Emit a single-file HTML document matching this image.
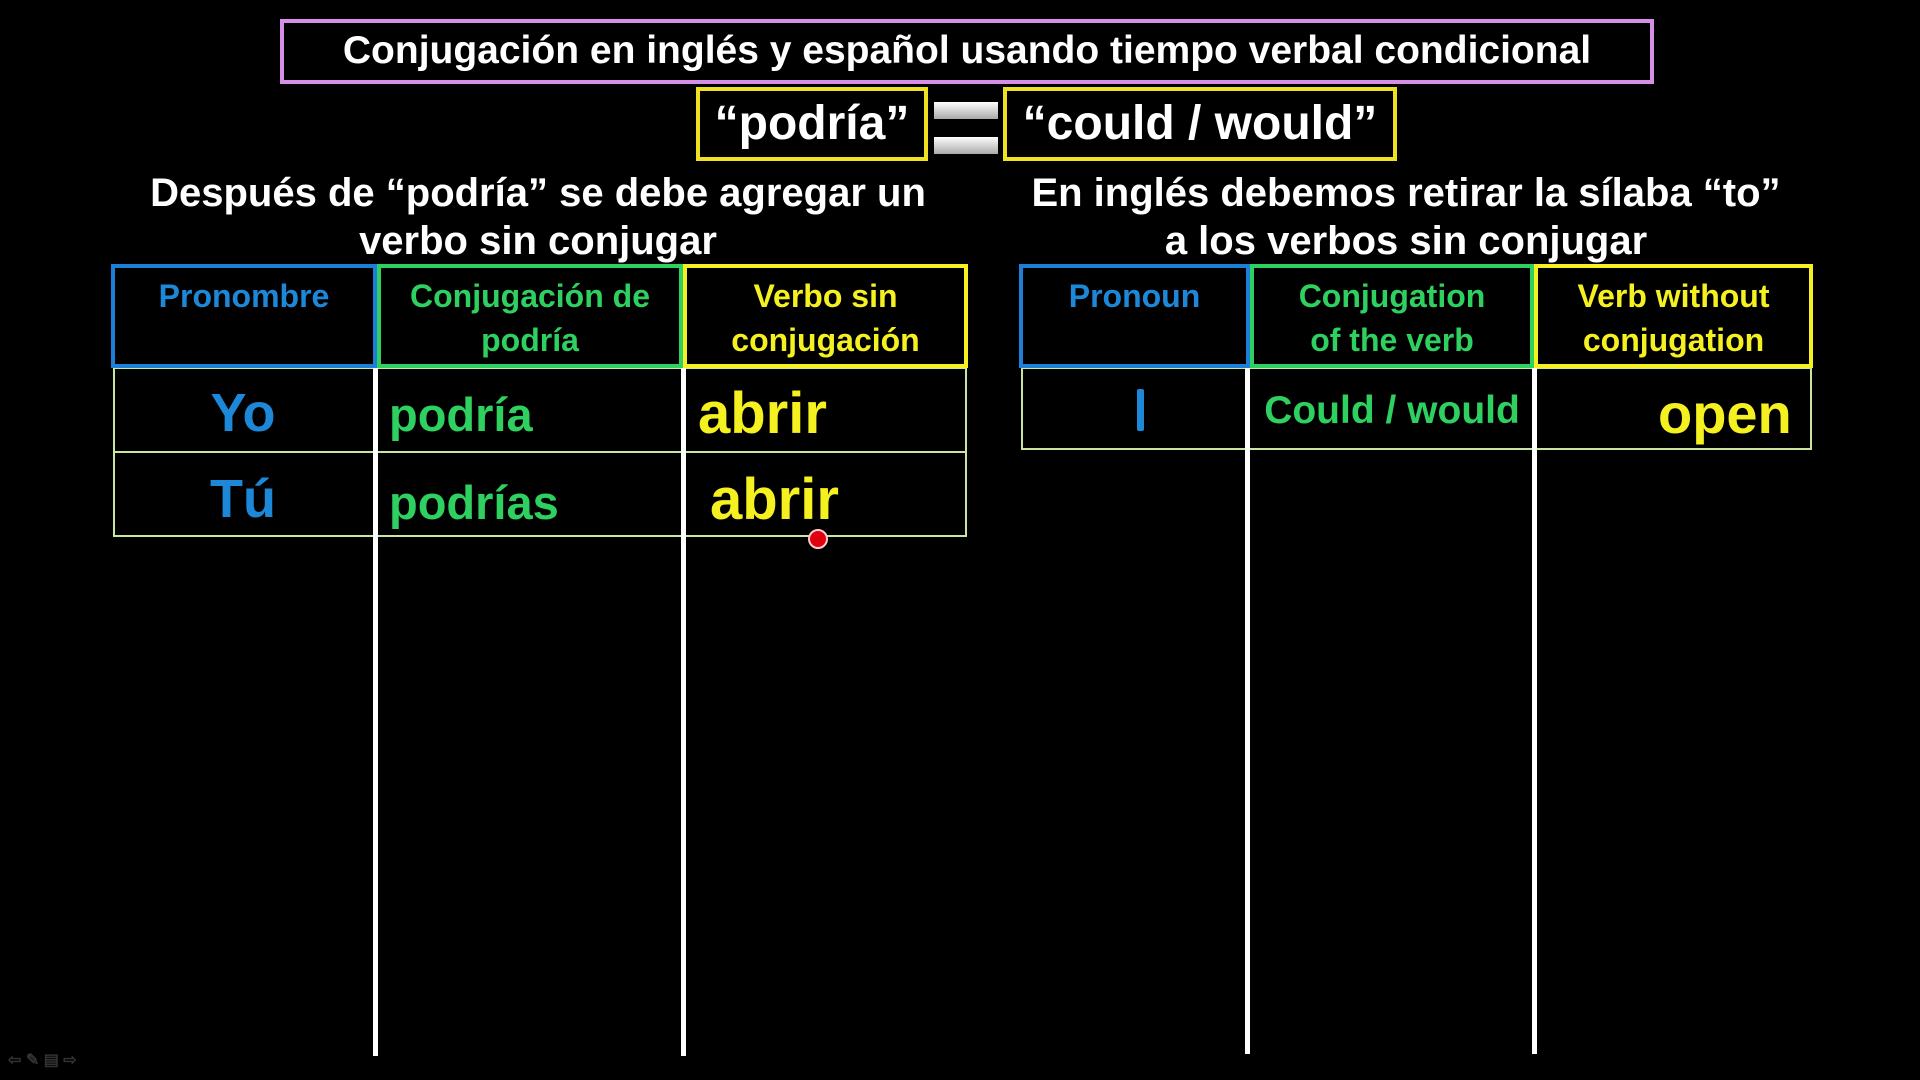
<!DOCTYPE html>
<html><head><meta charset="utf-8"><style>
body{margin:0;width:1920px;height:1080px;background:#000;position:relative;overflow:hidden;font-family:"Liberation Sans",Arial,sans-serif;font-weight:bold}
.a{position:absolute;box-sizing:border-box}
.t{position:absolute;white-space:nowrap}
.c{text-align:center}
</style></head><body>
<div class="a" style="left:280px;top:19px;width:1374px;height:65px;border:4px solid #d58fe6"></div>
<div class="t c" style="left:280px;top:29px;width:1374px;font-size:39px;color:#fff">Conjugación en inglés y español usando tiempo verbal condicional</div>

<div class="a" style="left:696px;top:87px;width:232px;height:74px;border:4px solid #f0e020"></div>
<div class="t c" style="left:696px;top:96px;width:232px;font-size:48px;color:#fff">“podría”</div>
<div class="a" style="left:934px;top:102px;width:64px;height:17px;background:linear-gradient(#fff,#aaa);"></div>
<div class="a" style="left:934px;top:137px;width:64px;height:17px;background:linear-gradient(#fff,#aaa);"></div>
<div class="a" style="left:1003px;top:87px;width:394px;height:74px;border:4px solid #f0e020"></div>
<div class="t c" style="left:1003px;top:96px;width:394px;font-size:48px;color:#fff">“could / would”</div>

<div class="t c" style="left:88px;top:169px;width:900px;font-size:40px;line-height:48px;color:#fff">Después de “podría” se debe agregar un<br>verbo sin conjugar</div>
<div class="t c" style="left:956px;top:169px;width:900px;font-size:40px;line-height:48px;color:#fff">En inglés debemos retirar la sílaba “to”<br>a los verbos sin conjugar</div>

<!-- left table -->
<div class="a" style="left:113px;top:367px;width:854px;height:170px;border:2px solid #c8e6a0"></div>
<div class="a" style="left:113px;top:451px;width:854px;height:2px;background:#c8e6a0"></div>
<div class="a" style="left:373px;top:367px;width:5px;height:689px;background:#fff"></div>
<div class="a" style="left:681px;top:367px;width:5px;height:689px;background:#fff"></div>
<div class="a" style="left:111px;top:264px;width:266px;height:104px;border:4px solid #1e7fd8"></div>
<div class="a" style="left:377px;top:264px;width:306px;height:104px;border:4px solid #2ed060"></div>
<div class="a" style="left:683px;top:264px;width:285px;height:104px;border:4px solid #f5f020"></div>
<div class="t c" style="left:111px;top:274px;width:266px;font-size:32px;line-height:44px;color:#1e88d8">Pronombre</div>
<div class="t c" style="left:377px;top:274px;width:306px;font-size:32px;line-height:44px;color:#2ed060">Conjugación de<br>podría</div>
<div class="t c" style="left:683px;top:274px;width:285px;font-size:32px;line-height:44px;color:#f5f020">Verbo sin<br>conjugación</div>
<div class="t c" style="left:113px;top:382px;width:260px;font-size:54px;color:#1e88d8">Yo</div>
<div class="t" style="left:389px;top:387px;font-size:47px;color:#2ed060">podría</div>
<div class="t" style="left:698px;top:380px;font-size:58px;color:#f5f020">abrir</div>
<div class="t c" style="left:113px;top:468px;width:260px;font-size:54px;color:#1e88d8">Tú</div>
<div class="t" style="left:389px;top:475px;font-size:47px;color:#2ed060">podrías</div>
<div class="t" style="left:710px;top:466px;font-size:58px;color:#f5f020">abrir</div>
<div class="a" style="left:808px;top:529px;width:20px;height:20px;border-radius:50%;background:#e00010;border:2px solid #fcc"></div>

<!-- right table -->
<div class="a" style="left:1021px;top:367px;width:791px;height:83px;border:2px solid #c8e6a0"></div>
<div class="a" style="left:1245px;top:367px;width:5px;height:687px;background:#fff"></div>
<div class="a" style="left:1532px;top:367px;width:5px;height:687px;background:#fff"></div>
<div class="a" style="left:1019px;top:264px;width:231px;height:104px;border:4px solid #1e7fd8"></div>
<div class="a" style="left:1250px;top:264px;width:284px;height:104px;border:4px solid #2ed060"></div>
<div class="a" style="left:1534px;top:264px;width:279px;height:104px;border:4px solid #f5f020"></div>
<div class="t c" style="left:1019px;top:274px;width:231px;font-size:32px;line-height:44px;color:#1e88d8">Pronoun</div>
<div class="t c" style="left:1250px;top:274px;width:284px;font-size:32px;line-height:44px;color:#2ed060">Conjugation<br>of the verb</div>
<div class="t c" style="left:1534px;top:274px;width:279px;font-size:32px;line-height:44px;color:#f5f020">Verb without<br>conjugation</div>
<div class="a" style="left:1137px;top:389px;width:7px;height:42px;background:#1e88d8;border-radius:2px"></div>
<div class="t c" style="left:1250px;top:389px;width:284px;font-size:39px;color:#2ed060">Could / would</div>
<div class="t" style="left:1658px;top:381px;font-size:56px;color:#f5f020">open</div>

<div class="t" style="left:8px;top:1050px;font-size:16px;color:#333">⇦ ✎ ▤ ⇨</div>
</body></html>
